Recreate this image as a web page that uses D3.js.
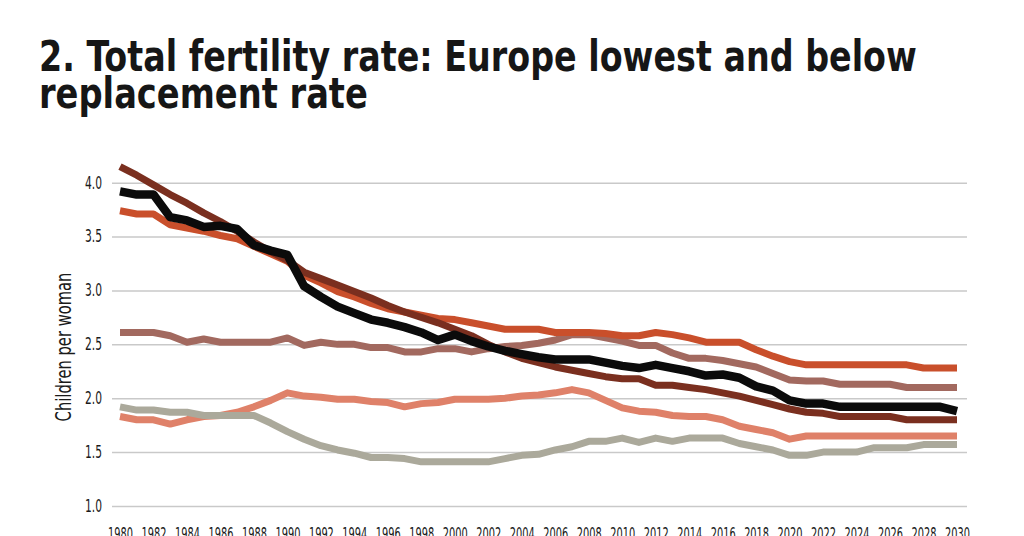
<!DOCTYPE html>
<html>
<head>
<meta charset="utf-8">
<script src="https://cdn.jsdelivr.net/npm/d3@7"></script>
<style>
	html, body { margin: 0; padding: 0; background: #fff; }
	#chart { width: 1024px; height: 536px; overflow: hidden; }
	text { font-family: "Liberation Sans Narrow", "DejaVu Sans Condensed", "Roboto", sans-serif; }
</style>
</head>
<body>
<div id="chart"></div>
<script>
var years = [1980, 1981, 1982, 1983, 1984, 1985, 1986, 1987, 1988, 1989,
	1990, 1991, 1992, 1993, 1994, 1995, 1996, 1997, 1998, 1999,
	2000, 2001, 2002, 2003, 2004, 2005, 2006, 2007, 2008, 2009,
	2010, 2011, 2012, 2013, 2014, 2015, 2016, 2017, 2018, 2019,
	2020, 2021, 2022, 2023, 2024, 2025, 2026, 2027, 2028, 2029, 2030];

var xTickLabels = [1980, 1982, 1984, 1986, 1988, 1990, 1992, 1994, 1996, 1998, 2000, 2002, 2004,
	2006, 2008, 2010, 2012, 2014, 2016, 2018, 2020, 2022, 2024, 2026, 2028, 2030];
var yTickLabels = [1.0, 1.5, 2.0, 2.5, 3.0, 3.5, 4.0];

// drawn in this order, last one on top
var seriesNames = ["salmon", "grey", "mauve", "orange", "darkbrown", "black"];

var salmon = [1.83, 1.80, 1.80, 1.76, 1.80, 1.83, 1.84, 1.87, 1.92, 1.98,
	2.05, 2.02, 2.01, 1.99, 1.99, 1.97, 1.96, 1.92, 1.95, 1.96,
	1.99, 1.99, 1.99, 2.00, 2.02, 2.03, 2.05, 2.08, 2.05, 1.98,
	1.91, 1.88, 1.87, 1.84, 1.83, 1.83, 1.80, 1.74, 1.71, 1.68,
	1.62, 1.65, 1.65, 1.65, 1.65, 1.65, 1.65, 1.65, 1.65, 1.65, 1.65];

var grey = [1.92, 1.89, 1.89, 1.87, 1.87, 1.84, 1.84, 1.84, 1.84, 1.77,
	1.69, 1.62, 1.56, 1.52, 1.49, 1.45, 1.45, 1.44, 1.41, 1.41,
	1.41, 1.41, 1.41, 1.44, 1.47, 1.48, 1.52, 1.55, 1.60, 1.60,
	1.63, 1.59, 1.63, 1.60, 1.63, 1.63, 1.63, 1.58, 1.55, 1.52,
	1.47, 1.47, 1.50, 1.50, 1.50, 1.54, 1.54, 1.54, 1.57, 1.57, 1.57];

var mauve = [2.61, 2.61, 2.61, 2.58, 2.52, 2.55, 2.52, 2.52, 2.52, 2.52,
	2.56, 2.49, 2.52, 2.50, 2.50, 2.47, 2.47, 2.43, 2.43, 2.46,
	2.46, 2.43, 2.46, 2.48, 2.49, 2.51, 2.54, 2.59, 2.59, 2.56,
	2.53, 2.49, 2.49, 2.42, 2.37, 2.37, 2.35, 2.32, 2.29, 2.23,
	2.17, 2.16, 2.16, 2.13, 2.13, 2.13, 2.13, 2.10, 2.10, 2.10, 2.10];

var orange = [3.74, 3.71, 3.71, 3.61, 3.58, 3.55, 3.51, 3.48, 3.41, 3.34,
	3.27, 3.14, 3.07, 2.99, 2.94, 2.88, 2.83, 2.80, 2.77, 2.74,
	2.73, 2.70, 2.67, 2.64, 2.64, 2.64, 2.61, 2.61, 2.61, 2.60,
	2.58, 2.58, 2.61, 2.59, 2.56, 2.52, 2.52, 2.52, 2.45, 2.39,
	2.34, 2.31, 2.31, 2.31, 2.31, 2.31, 2.31, 2.31, 2.28, 2.28, 2.28];

var darkbrown = [4.15, 4.07, 3.98, 3.89, 3.81, 3.72, 3.64, 3.55, 3.45, 3.36,
	3.28, 3.17, 3.11, 3.05, 2.99, 2.93, 2.86, 2.80, 2.75, 2.70,
	2.64, 2.58, 2.50, 2.43, 2.37, 2.33, 2.29, 2.26, 2.23, 2.20,
	2.18, 2.18, 2.12, 2.12, 2.10, 2.08, 2.05, 2.02, 1.98, 1.94,
	1.90, 1.87, 1.86, 1.83, 1.83, 1.83, 1.83, 1.80, 1.80, 1.80, 1.80];

var black = [3.92, 3.89, 3.89, 3.68, 3.65, 3.59, 3.60, 3.57, 3.42, 3.37,
	3.33, 3.04, 2.94, 2.85, 2.79, 2.73, 2.70, 2.66, 2.61, 2.54,
	2.59, 2.53, 2.48, 2.44, 2.41, 2.38, 2.36, 2.36, 2.36, 2.33,
	2.30, 2.28, 2.31, 2.28, 2.25, 2.21, 2.22, 2.19, 2.11, 2.07,
	1.98, 1.95, 1.95, 1.92, 1.92, 1.92, 1.92, 1.92, 1.92, 1.92, 1.88];

var seriesValues = {
	salmon: salmon,
	grey: grey,
	mauve: mauve,
	orange: orange,
	darkbrown: darkbrown,
	black: black
};

var lineColor = d3.scaleOrdinal()
	.domain(seriesNames)
	.range(["#df8169", "#aba99b", "#a2695f", "#c94f2b", "#7a2f1f", "#0b0b0b"]);

var lineWidth = d3.scaleOrdinal()
	.domain(seriesNames)
	.range([7, 7, 7, 7, 7, 8.5]);

var width = 1024,
	height = 536;

// no narrow font installed: squeeze the condensed one horizontally to a target width.
// x0 is where the text anchor should stay after scaling
var fitWidth = function(sel, target, x0) {
	sel.each(function() {
		var node = d3.select(this);
		var w = this.getComputedTextLength();
		var s = target / w;
		node.attr("x", (x0 || 0) / s)
			.attr("transform", function() {
				var prev = node.attr("data-base") || "";
				return prev + " scale(" + s + ",1)";
			});
	});
};

var svg = d3.select("#chart").append("svg")
	.attr("width", width)
	.attr("height", height);

// title
var title = svg.append("g")
	.style("font-size", "42px")
	.style("font-weight", "bold")
	.style("fill", "#161616");

title.append("text")
	.attr("y", 71)
	.text("2. Total fertility rate: Europe lowest and below")
	.call(fitWidth, 878, 39);

title.append("text")
	.attr("y", 108)
	.text("replacement rate")
	.call(fitWidth, 329, 39);

var x = d3.scaleLinear()
	.domain([years[0], years[years.length - 1]])
	.range([120, 957]);

var y = d3.scaleLinear()
	.domain([1, 4])
	.range([506, 182.7]);

// grid lines (y axis)
var yAxis = d3.axisLeft(y)
	.tickValues(yTickLabels)
	.tickSizeInner(-855)
	.tickSizeOuter(0)
	.tickPadding(10)
	.tickFormat(d3.format(".1f"));

var gy = svg.append("g")
	.attr("class", "y axis")
	.attr("transform", "translate(112,0)")
	.call(yAxis);

gy.select(".domain").remove();
gy.selectAll(".tick line")
	.style("stroke", "#c9c9c9")
	.style("stroke-width", 1.5);
gy.selectAll(".tick text")
	.style("font-size", "18px")
	.style("fill", "#1a1a1a")
	.attr("dy", "0.3em")
	.call(fitWidth, 17, -10);

var xAxis = d3.axisBottom(x)
	.tickValues(xTickLabels)
	.tickSize(0)
	.tickPadding(0)
	.tickFormat(d3.format("d"));

var gx = svg.append("g")
	.attr("class", "x axis")
	.attr("transform", "translate(0,527)")
	.call(xAxis);

gx.select(".domain").remove();
gx.selectAll(".tick text")
	.style("font-size", "18px")
	.style("fill", "#1a1a1a")
	.attr("dy", "0.72em")
	.call(fitWidth, 25, 0);

svg.selectAll(".axis").attr("font-family", null);

// axis title
svg.append("g")
	.attr("transform", "translate(71,347) rotate(-90)")
	.append("text")
	.attr("text-anchor", "middle")
	.style("font-size", "22px")
	.style("fill", "#1a1a1a")
	.text("Children per woman")
	.call(fitWidth, 149, 0);

var line = d3.line()
	.x(function(d, i) {
		return x(years[i]);
	})
	.y(function(d) {
		return y(d);
	});

svg.append("g")
	.attr("class", "lines")
	.selectAll("path")
	.data(seriesNames)
	.enter().append("path")
	.attr("d", function(name) {
		return line(seriesValues[name]);
	})
	.style("fill", "none")
	.style("stroke", function(name) {
		return lineColor(name);
	})
	.style("stroke-width", function(name) {
		return lineWidth(name);
	})
	.style("stroke-linejoin", "round")
	.style("stroke-linecap", "butt");
</script>
</body>
</html>
